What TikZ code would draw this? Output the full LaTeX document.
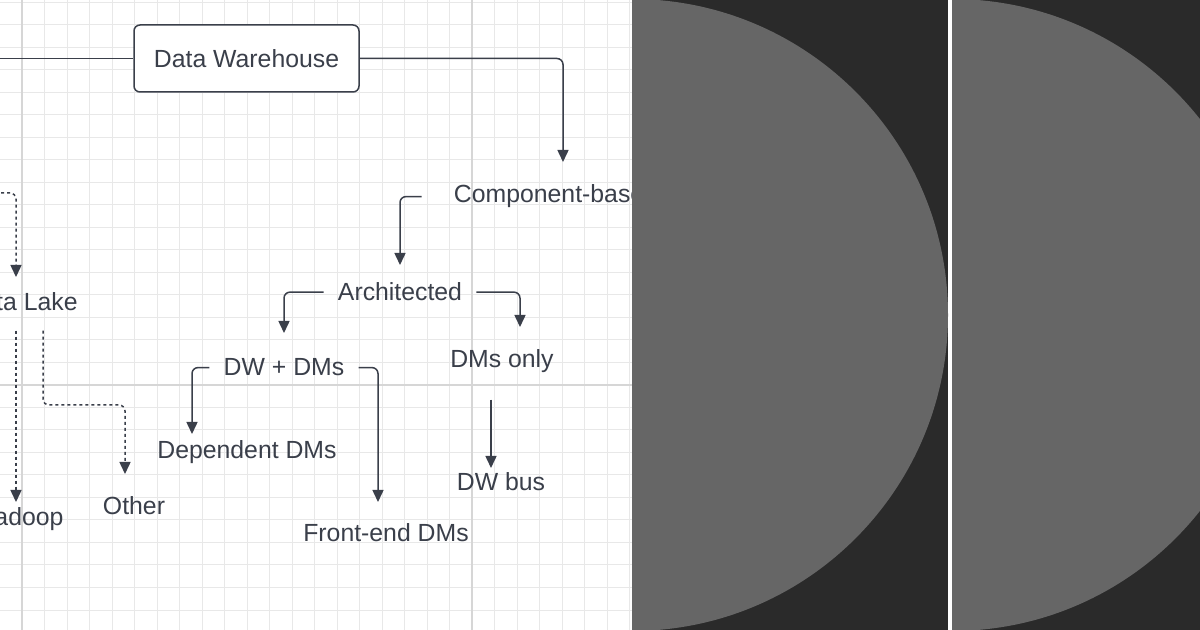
\documentclass[tikz,border=0pt]{standalone}
\usepackage{fontspec}
\setmainfont{Liberation Sans}
\usetikzlibrary{arrows.meta}
\definecolor{ink}{HTML}{3A3F4A}
\definecolor{gmin}{HTML}{E8E8E8}
\definecolor{gmaj}{HTML}{D6D6D6}
\definecolor{darkbg}{HTML}{2A2A2A}
\definecolor{disc}{HTML}{666666}
\begin{document}
\begin{tikzpicture}[x=0.5pt,y=-0.5pt,
  lbl/.style={inner xsep=7pt,inner ysep=0pt,text=ink,font=\fontsize{12.4}{14}\selectfont,anchor=base},
  conn/.style={draw=ink,line width=0.75pt,rounded corners=3pt},
  arr/.style={conn,-{Triangle[length=6pt,width=5.5pt]}},
  dot/.style={dash pattern=on 1.5pt off 1.5pt},
  gridminor/.style={draw=gmin,line width=0.5pt},
  gridmajor/.style={draw=gmaj,line width=0.9pt}]
\useasboundingbox (0,0) rectangle (1200,630);
\clip (0,0) rectangle (1200,630);
\fill[white] (0,0) rectangle (632,630);
\foreach \i in {-1,...,27} \draw[gridminor] ({22+22.5*\i},0) -- ++(0,630);
\foreach \j in {0,...,28} \draw[gridminor] (0,{2.5+22.5*\j}) -- ++(632,0);
\draw[gridmajor] (22,0) -- (22,630);
\draw[gridmajor] (472,0) -- (472,630);
\draw[gridmajor] (0,385) -- (632,385);

\node[draw=ink,fill=white,rounded corners=3pt,line width=0.75pt,minimum width=112.5pt,minimum height=33.5pt,text=ink,font=\fontsize{12.4}{14}\selectfont] (dw) at (246.5,58.5) {Data Warehouse};
\node[lbl] (comp) at (556,203) {Component-based};
\node[lbl] (arch) at (400,301) {Architected};
\node[lbl] (dwdm) at (284,376) {DW + DMs};
\node[lbl] (dmo) at (502,368) {DMs only};
\node[lbl] (dep) at (247,459) {Dependent DMs};
\node[lbl] (fe) at (386,542) {Front-end DMs};
\node[lbl] (bus) at (501,491) {DW bus};
\node[lbl,anchor=base east] (lake) at (92,311) {Data Lake};
\node[lbl] (had) at (20,526) {Hadoop};
\node[lbl] (oth) at (134,515) {Other};

\coordinate (l0) at (-5,58.5);
\draw[conn] (dw.west) -- (l0);
\coordinate (tc) at (563,162);
\draw[arr] (dw.east) -| (tc);
\coordinate (ta) at (400,265);
\coordinate (cs) at ([xshift=-9pt]comp.west);
\draw[arr] (cs) -| (ta);
\coordinate (tdd) at (284,333);
\draw[arr] (arch.west) -| (tdd);
\coordinate (tdo) at (520,327);
\draw[arr] (arch.east) -| (tdo);
\coordinate (tdep) at (192,434);
\draw[arr] (dwdm.west) -| (tdep);
\coordinate (tfe) at (378,502);
\draw[arr] (dwdm.east) -| (tfe);
\coordinate (tbus) at (491,468);
\coordinate (ds) at ([yshift=-13pt]dmo.south);
\draw[arr] (ds -| tbus) -- (tbus);

\coordinate (tl) at (16,277);
\coordinate (l1) at (-5,193);
\draw[arr,dot] (l1) -| (tl);
\coordinate (ls) at ([yshift=-9.5pt]lake.south);
\coordinate (th) at (16,502);
\draw[arr,dot] (ls -| th) -- (th);
\coordinate (to) at (125,474);
\coordinate (lk) at (43,405);
\draw[arr,dot] (ls -| lk) -- (lk) -| (to);

\fill[darkbg] (632,0) rectangle (1200,630);
\fill[white] (948,0) rectangle (952,630);
\begin{scope}
\clip (632,0) rectangle (948,630);
\fill[disc] (632,315) circle (316);
\end{scope}
\begin{scope}
\clip (952,0) rectangle (1200,630);
\fill[disc] (952,315) circle (316);
\end{scope}
\end{tikzpicture}
\end{document}
